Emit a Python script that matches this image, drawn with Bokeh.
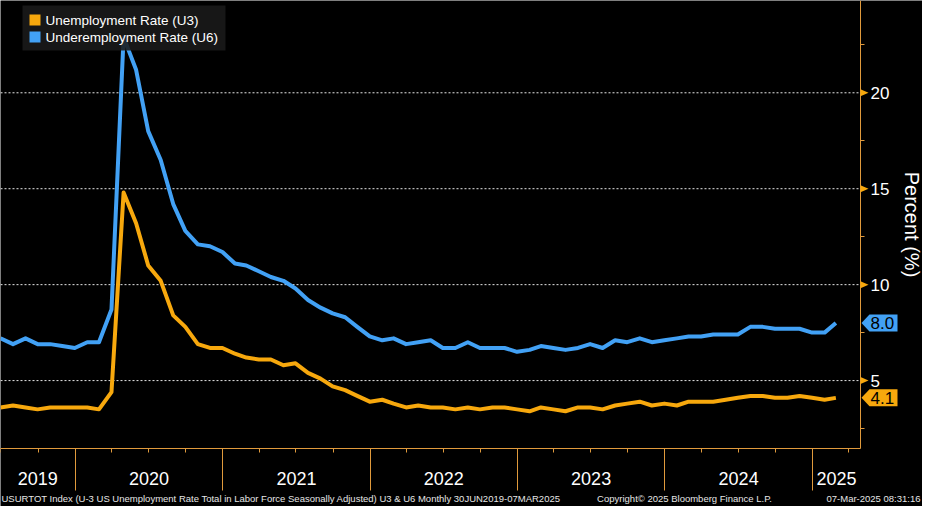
import pandas as pd
from bokeh.plotting import figure
from bokeh.models import (ColumnDataSource, FixedTicker, Label, PolyAnnotation,
                          BoxAnnotation, Range1d)
from bokeh.embed import file_html
from bokeh.resources import INLINE

# ---------------- data (monthly, Jun 2019 .. Feb 2025) ----------------
u3 = [3.6, 3.7, 3.6, 3.5, 3.6, 3.6, 3.6,
      3.6, 3.5, 4.4, 14.8, 13.2, 11.0, 10.2, 8.4, 7.8, 6.9, 6.7, 6.7,
      6.4, 6.2, 6.1, 6.1, 5.8, 5.9, 5.4, 5.1, 4.7, 4.5, 4.2, 3.9,
      4.0, 3.8, 3.6, 3.7, 3.6, 3.6, 3.5, 3.6, 3.5, 3.6, 3.6, 3.5,
      3.4, 3.6, 3.5, 3.4, 3.6, 3.6, 3.5, 3.7, 3.8, 3.9, 3.7, 3.8,
      3.7, 3.9, 3.9, 3.9, 4.0, 4.1, 4.2, 4.2, 4.1, 4.1, 4.2, 4.1,
      4.0, 4.1]
u6 = [7.2, 6.9, 7.2, 6.9, 6.9, 6.8, 6.7,
      7.0, 7.0, 8.7, 22.9, 21.2, 18.0, 16.5, 14.2, 12.8, 12.1, 12.0, 11.7,
      11.1, 11.0, 10.7, 10.4, 10.2, 9.8, 9.2, 8.8, 8.5, 8.3, 7.8, 7.3,
      7.1, 7.2, 6.9, 7.0, 7.1, 6.7, 6.7, 7.0, 6.7, 6.7, 6.7, 6.5,
      6.6, 6.8, 6.7, 6.6, 6.7, 6.9, 6.7, 7.1, 7.0, 7.2, 7.0, 7.1,
      7.2, 7.3, 7.3, 7.4, 7.4, 7.4, 7.8, 7.8, 7.7, 7.7, 7.7, 7.5,
      7.5, 8.0]
first_month = "2019-06"
series_names = ["Unemployment Rate (U3)", "Underemployment Rate (U6)"]
year_labels = ["2019", "2020", "2021", "2022", "2023", "2024", "2025"]
y_ticks = [5, 10, 15, 20]
y_minor_ticks = [2.5, 7.5, 12.5, 17.5, 22.5]
axis_title = "Percent (%)"
footer_left = ("USURTOT Index (U-3 US Unemployment Rate Total in Labor Force "
               "Seasonally Adjusted) U3 & U6  Monthly 30JUN2019-07MAR2025")
footer_mid = "Copyright\u00a9 2025 Bloomberg Finance L.P."
footer_right = "07-Mar-2025 08:31:16"

# month-end dates
dates = (pd.date_range(pd.Timestamp(first_month + "-01") + pd.offsets.MonthBegin(1),
                       periods=len(u3), freq="MS") - pd.Timedelta(days=1))

# ---------------- styling / layout ----------------
ORANGE = "#F7A80D"
BLUE = "#42A1F5"
AXIS = "#E09A3C"
FONT = "Liberation Sans"

W, H = 922, 506          # whole canvas == plotting frame
PW, PH = 860, 448        # data area (left/top part of the frame)

x_start = pd.Timestamp("2019-06-30")
x_end = pd.Timestamp("2025-04-30")
y_start, y_end = 1.46, 24.81

xr_end = x_start + (x_end - x_start) * (W / PW)
yr_start = y_end - (y_end - y_start) * (H / PH)

def ms(t):
    return t.value / 1e6

p = figure(width=W, height=H, x_axis_type="datetime", y_axis_location="right",
           x_range=Range1d(x_start.to_pydatetime(), xr_end.to_pydatetime()),
           y_range=Range1d(yr_start, y_end),
           output_backend="svg", toolbar_location=None,
           min_border_left=0, min_border_top=0,
           min_border_right=0, min_border_bottom=0,
           background_fill_color="black", border_fill_color="black",
           outline_line_color=None)

# dotted horizontal grid, only across the data area
p.xgrid.visible = False
p.ygrid.visible = False
p.segment(x0=[x_start] * len(y_ticks), x1=[x_end] * len(y_ticks),
          y0=y_ticks, y1=y_ticks, line_color="white", line_dash="2 2",
          line_alpha=0.9, line_width=1)

src = ColumnDataSource(dict(date=dates, u3=u3, u6=u6))
p.line("date", "u3", source=src, line_color=ORANGE, line_width=4, line_join="round")
p.line("date", "u6", source=src, line_color=BLUE, line_width=4, line_join="round")

# ---- right axis (pinned at the end of the date range) ----
ya = p.yaxis[0]
ya.fixed_location = ms(x_end)
ya.bounds = (y_start, y_end)
ya.ticker = FixedTicker(ticks=y_ticks, minor_ticks=y_minor_ticks)
ya.axis_line_color = AXIS
ya.axis_line_width = 1
ya.major_tick_line_color = None      # drawn as small triangles below
ya.major_tick_in = 0
ya.major_tick_out = 7
ya.minor_tick_line_color = AXIS
ya.minor_tick_in = 0
ya.minor_tick_out = 4
ya.major_label_text_color = "white"
ya.major_label_text_font = FONT
ya.major_label_text_font_size = "17px"
ya.major_label_standoff = 3
ya.axis_label = axis_title
ya.axis_label_text_color = "white"
ya.axis_label_text_font = FONT
ya.axis_label_text_font_size = "20px"
ya.axis_label_text_font_style = "normal"
ya.axis_label_standoff = 9

ppu = H / (y_end - yr_start)
for t in y_ticks:
    sy = (t - yr_start) * ppu
    p.add_layout(PolyAnnotation(xs=[PW, PW + 8, PW], ys=[sy + 3.5, sy, sy - 3.5],
                                xs_units="screen", ys_units="screen",
                                fill_color=ORANGE, fill_alpha=1, line_color=None))

# ---- bottom axis (pinned at the bottom of the value range) ----
year_starts = [pd.Timestamp(f"{y}-01-01") for y in year_labels]
major_x = [ms(t) for t in year_starts if x_start < t < x_end]
minor_x = [ms(t) for t in pd.date_range("2019-07-01", x_end, freq="QS")]
xa = p.xaxis[0]
xa.fixed_location = y_start
xa.bounds = (ms(x_start), ms(x_end))
xa.ticker = FixedTicker(ticks=major_x, minor_ticks=minor_x)
xa.axis_line_color = AXIS
xa.major_tick_line_color = AXIS
xa.major_tick_in = 0
xa.major_tick_out = 42
xa.minor_tick_line_color = AXIS
xa.minor_tick_in = 0
xa.minor_tick_out = 4
xa.major_label_text_font_size = "0px"
xa.major_label_text_alpha = 0

# year labels centred in the visible part of each year
for yl, t0 in zip(year_labels, year_starts):
    a = max(t0, x_start)
    b = min(pd.Timestamp(f"{int(yl) + 1}-01-01"), x_end)
    mid = a + (b - a) / 2
    p.add_layout(Label(x=ms(mid), y=H - PH - 30, x_units="data", y_units="screen",
                       text=yl, text_align="center", text_baseline="middle",
                       text_color="white", text_font=FONT, text_font_size="18px"))

# ---- footer ----
for txt, xx, al in [(footer_left, 1, "left"), (footer_mid, 684, "center"),
                    (footer_right, W - 2, "right")]:
    p.add_layout(Label(x=xx, y=H - PH - 50, x_units="screen", y_units="screen",
                       text=txt, text_align=al, text_baseline="middle",
                       text_color="#E6E6E6", text_font=FONT, text_font_size="9.5px"))

# ---- last value callouts ----
for vals, col in [(u6, BLUE), (u3, ORANGE)]:
    v = vals[-1]
    sy = (v - yr_start) * ppu
    x0 = PW + 1
    p.add_layout(PolyAnnotation(xs=[x0, x0 + 8, x0 + 36, x0 + 36, x0 + 8],
                                ys=[sy, sy + 8.5, sy + 8.5, sy - 8.5, sy - 8.5],
                                xs_units="screen", ys_units="screen",
                                fill_color=col, fill_alpha=1, line_color=None))
    p.add_layout(Label(x=x0 + 9, y=sy, x_units="screen", y_units="screen",
                       text=f"{v:.1f}", text_align="left", text_baseline="middle",
                       text_color="black", text_font=FONT, text_font_size="17px"))

# ---- legend (box, square swatches, labels) ----
LX, LT, LW, LH = 22, 5, 203, 45
p.add_layout(BoxAnnotation(left=LX, right=LX + LW, top=H - LT, bottom=H - LT - LH,
                           left_units="screen", right_units="screen",
                           top_units="screen", bottom_units="screen",
                           fill_color="#1a1a1a", fill_alpha=0.88, line_color=None))
for i, (name, col) in enumerate(zip(series_names, [ORANGE, BLUE])):
    cy = H - (LT + 14.5 + 17 * i)
    p.add_layout(BoxAnnotation(left=LX + 7, right=LX + 18, top=cy + 5.5, bottom=cy - 5.5,
                               left_units="screen", right_units="screen",
                               top_units="screen", bottom_units="screen",
                               fill_color=col, fill_alpha=1, line_color=None))
    p.add_layout(Label(x=LX + 23, y=cy, x_units="screen", y_units="screen",
                       text=name, text_align="left", text_baseline="middle",
                       text_color="white", text_font=FONT, text_font_size="13.5px"))

open("out.html", "w").write(file_html(p, INLINE))
